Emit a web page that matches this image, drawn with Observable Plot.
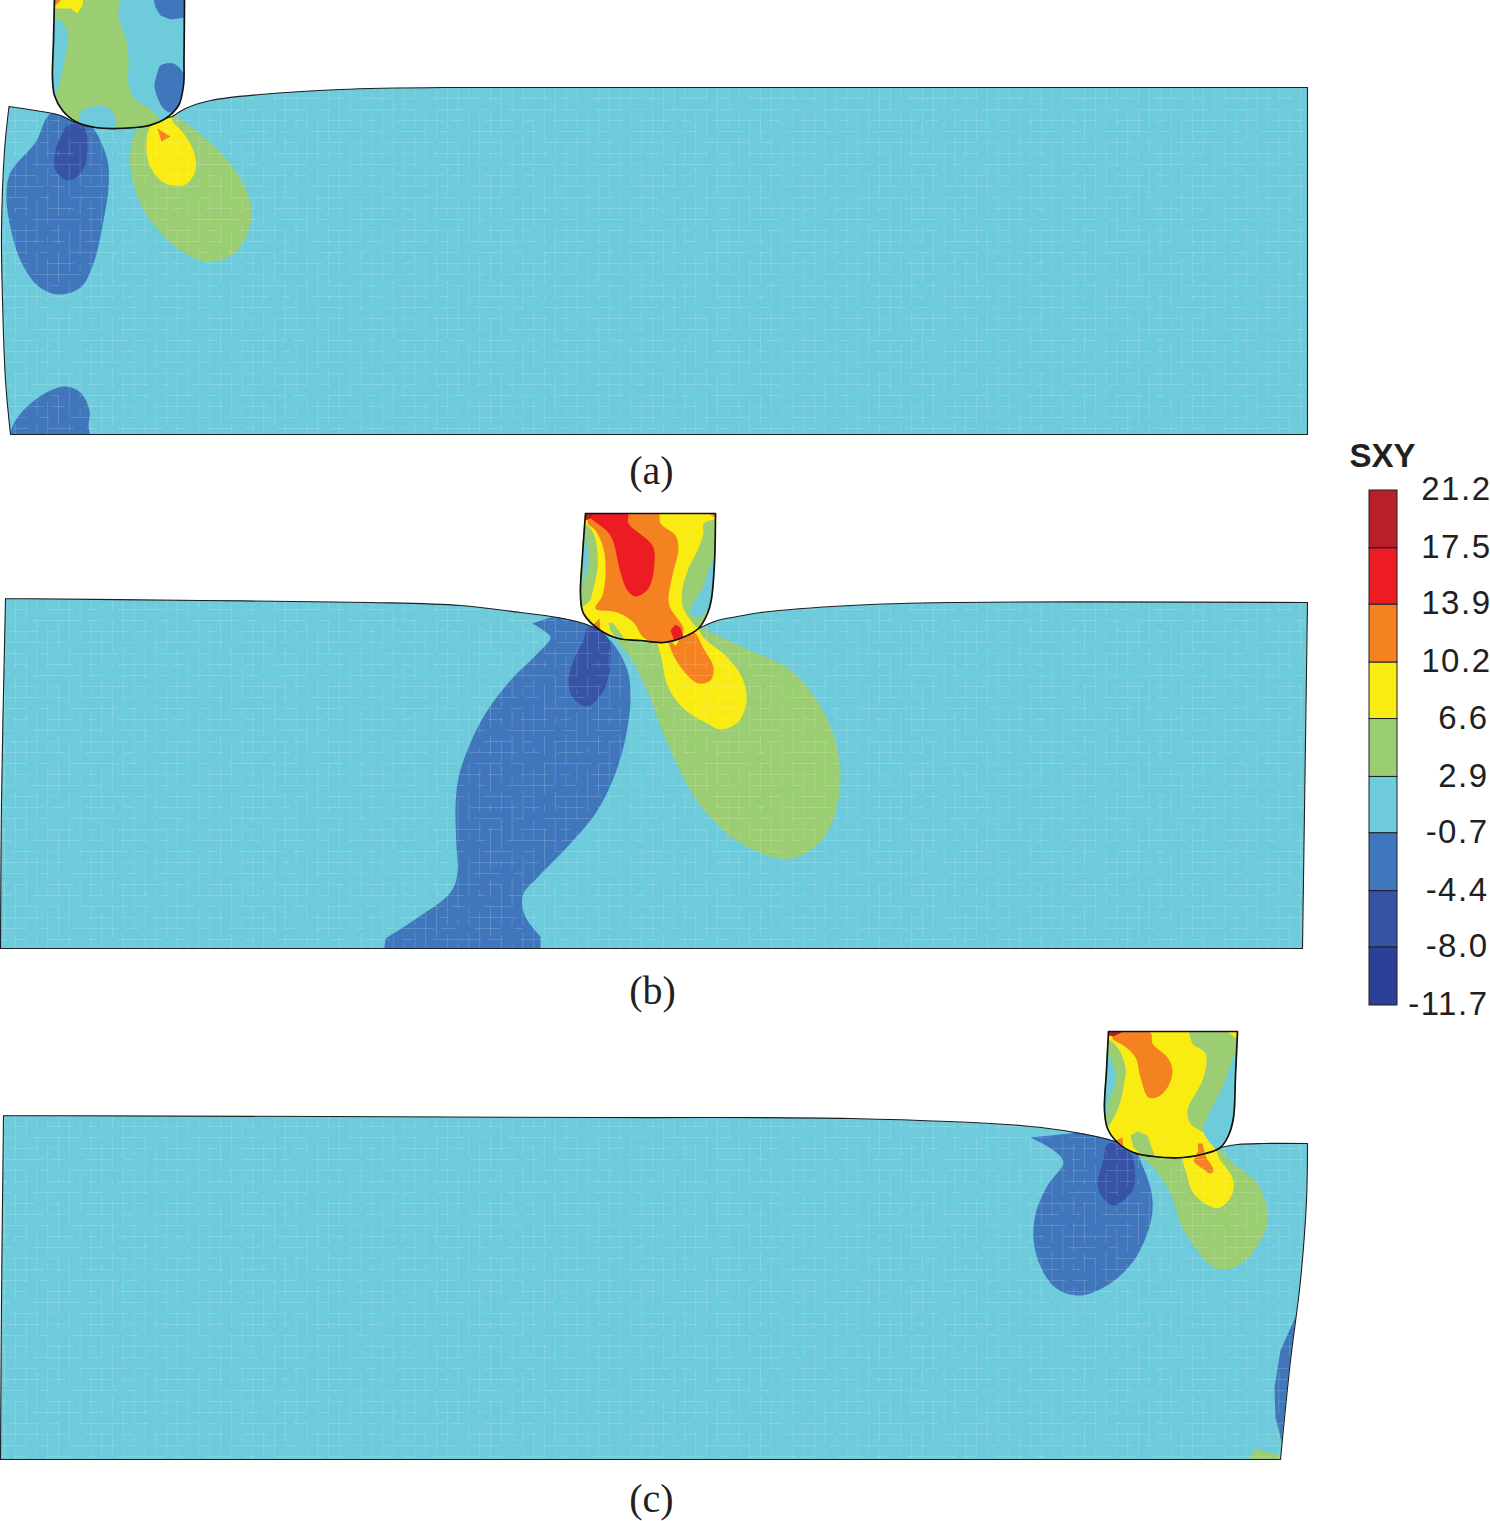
<!DOCTYPE html>
<html><head><meta charset="utf-8">
<style>html,body{margin:0;padding:0;background:#fff}#wrap{position:relative;width:1490px;height:1521px;overflow:hidden}#wrap svg{position:absolute;left:0;top:0}</style>
<script src="https://cdn.jsdelivr.net/npm/d3@7"></script>
<script src="https://cdn.jsdelivr.net/npm/@observablehq/plot@0.6"></script>
</head><body><div id="wrap"></div>
<script>
// Legend
const levels=[21.2,17.5,13.9,10.2,6.6,2.9,-0.7,-4.4,-8.0,-11.7];
const levelLabels=["21.2","17.5","13.9","10.2","6.6","2.9","-0.7","-4.4","-8.0","-11.7"];
const bandColors=["#B91F26","#ED1C24","#F58220","#F9EC13","#9BCD72","#6DCBDB","#3F76BC","#3753A6","#2E3F97"];
const [DR,RD,OR,YE,GR,CY,BL,MB]=bandColors;

// Panel (a) - repeated points are sharp corners of the outline
const plateA=[[8.5,106],[8.5,106],[35,110],[60,115],[75,122],[95,127],[135,127],[150,125],[165,118],[172,116],[172,116],[185,108],[210,100],[260,94],[340,89],[450,87],[800,87],[1307,87],[1307,87],[1307,434],[1307,434],[10,434],[10,434],[5,380],[2,300],[1,230],[4,150]];
const punchA=[[54,-2],[54,-2],[184,-2],[184,-2],[183.5,60],[183,85],[178,105],[165,118],[150,124.5],[135,127],[95,127],[75,121],[62,110],[54,95],[52,78],[53,40]];
const plateARegions=[
 [BL,[[50,113],[35,142],[10,172],[6,197],[10,227],[20,260],[37,285],[57,294],[80,287],[93,263],[103,220],[108,187],[107,160],[93,128],[75,112]]],
 [MB,[[67,125],[83,126],[87,147],[82,170],[68,180],[55,170],[55,150],[60,137]]],
 [BL,[[8,440],[10,432],[15,420],[30,403],[50,390],[65,386],[80,392],[89,410],[88,425],[88,440]]],
 [GR,[[158,115],[137,128],[130,150],[131,175],[141,205],[160,232],[183,252],[207,261],[232,254],[247,233],[251,208],[241,180],[220,152],[195,130],[173,115]]],
 [YE,[[157,118],[148,130],[146,150],[150,167],[163,182],[173,185],[185,184],[195,170],[193,150],[183,133],[173,122],[168,112]]],
 [OR,[[157,128],[170,136],[161,141]]]
];
const punchARegions=[
 [GR,[[54,-2],[117,-2],[118,17],[125,37],[128,57],[128,83],[133,97],[147,107],[158,117],[160,128],[147,130],[117,130],[115,117],[107,107],[87,107],[80,112],[78,122],[67,120],[52,100],[57,90],[62,70],[67,43],[67,32],[60,20],[52,17]]],
 [YE,[[52,-2],[83,-2],[82,5],[77,13],[70,8],[56,8],[52,9]]],
 [OR,[[52,-2],[62,-2],[56,4],[52,5]]],
 [BL,[[153,-2],[186,-2],[186,17],[170,19],[160,15],[155,7]]],
 [BL,[[160,65],[173,63],[184,75],[183,90],[177,107],[170,112],[163,108],[157,97],[154,85],[157,72]]]
];

// Panel (b)
const plateB=[[5,598],[5,598],[200,600],[370,602],[460,605],[520,612],[557,617],[583,623],[600,630],[618,638],[640,640],[663,642],[682,637],[698,628],[698,628],[717,620],[737,616],[760,612],[850,605],[950,602],[1307,602],[1307,602],[1302,948],[1302,948],[0,948],[0,948],[1,800]];
const punchB=[[585,513],[585,513],[715,513],[715,513],[714,562],[711,598],[707,613],[698,628],[682,637],[663,642],[640,640],[618,638],[600,630],[583,613],[580,595],[582,555]];
const plateBRegions=[
 [BL,[[532,623],[532,623],[557,616],[583,620],[610,640],[627,670],[630,697],[627,727],[617,767],[597,810],[570,843],[537,877],[523,893],[522,907],[527,920],[540,936],[540,936],[540,955],[540,955],[383,955],[383,955],[385,938],[385,938],[413,920],[450,892],[457,873],[456,847],[455,807],[458,777],[468,747],[485,713],[510,680],[537,653],[550,637],[543,630]]],
 [MB,[[587,627],[607,637],[610,663],[603,690],[587,706],[573,698],[568,683],[573,660],[583,640]]],
 [GR,[[610,625],[633,662],[650,698],[665,738],[700,805],[742,844],[790,858],[825,835],[840,775],[825,715],[790,670],[745,648],[700,627],[660,610]]],
 [YE,[[657,625],[662,662],[667,685],[683,708],[707,723],[720,729],[737,722],[746,702],[742,678],[727,657],[703,637],[693,622]]],
 [OR,[[667,635],[675,645],[680,637],[692,630],[703,648],[713,667],[710,680],[698,683],[687,675],[673,655]]]
];
const punchBRegions=[
 [YE,[[575,505],[725,505],[725,650],[575,650]]],
 [GR,[[586,525],[593,533],[597,552],[597,568],[593,588],[588,602],[578,606],[575,595],[578,582],[580,540]]],
 [CY,[[585,535],[588,548],[588,568],[582,585],[583,555]]],
 [GR,[[703,523],[722,521],[722,600],[707,613],[698,627],[688,617],[682,605],[682,588],[688,568],[698,548],[703,532]]],
 [CY,[[713,560],[722,560],[711,600],[707,610],[697,617],[689,612],[693,603],[702,588]]],
 [GR,[[608,622],[613,623],[622,635],[623,640],[617,640],[610,630]]],
 [OR,[[627,513],[658,513],[660,523],[675,535],[678,548],[672,575],[668,598],[670,608],[677,618],[683,628],[680,638],[657,642],[643,637],[633,622],[617,612],[595,608],[602,595],[605,572],[603,548],[595,530],[587,522],[595,512]]],
 [RD,[[585,513],[627,513],[628,523],[652,545],[654,562],[648,588],[635,596],[627,590],[620,572],[610,535],[593,520]]],
 [DR,[[585,513],[593,513],[590,518],[585,520]]],
 [OR,[[592,625],[599,618],[600,633],[594,627]]],
 [OR,[[708,513],[716,513],[716,518]]],
 [RD,[[670,630],[675,624],[680,627],[683,637],[677,647],[673,638]]]
];

// Panel (c)
const plateC=[[3,1115],[3,1115],[600,1117],[850,1118],[1020,1125],[1063,1130],[1100,1137],[1117,1142],[1133,1152],[1153,1156],[1183,1157],[1205,1153],[1220,1147],[1220,1147],[1237,1144],[1263,1143],[1307,1143],[1307,1143],[1306,1200],[1300,1280],[1290,1360],[1280,1459],[1280,1459],[0,1459],[0,1459],[1,1300]];
const punchC=[[1108,1031],[1108,1031],[1237,1031],[1237,1031],[1235,1075],[1233,1117],[1228,1135],[1220,1147],[1205,1153],[1183,1157],[1153,1156],[1133,1152],[1117,1142],[1107,1128],[1104,1110],[1106,1070]];
const plateCRegions=[
 [BL,[[1030,1137],[1030,1137],[1070,1133],[1100,1130],[1133,1145],[1141,1163],[1150,1187],[1152,1210],[1146,1235],[1132,1262],[1108,1284],[1080,1295],[1056,1288],[1040,1266],[1033,1238],[1036,1210],[1047,1185],[1063,1162],[1056,1152]]],
 [MB,[[1108,1143],[1130,1153],[1134,1167],[1132,1190],[1113,1205],[1102,1197],[1097,1183],[1102,1163]]],
 [GR,[[1135,1148],[1153,1167],[1170,1193],[1180,1223],[1197,1250],[1213,1267],[1227,1269],[1247,1258],[1265,1230],[1267,1210],[1257,1183],[1233,1163],[1217,1146],[1205,1140]]],
 [YE,[[1183,1150],[1187,1177],[1193,1193],[1210,1206],[1220,1207],[1232,1193],[1232,1177],[1220,1160],[1210,1142]]],
 [OR,[[1197,1143],[1202,1143],[1205,1155],[1213,1170],[1210,1173],[1202,1168],[1193,1160],[1198,1153]]],
 [BL,[[1300,1305],[1280,1350],[1274,1387],[1275,1417],[1282,1445],[1295,1450],[1310,1310]]],
 [GR,[[1248,1462],[1251,1453],[1257,1448],[1267,1452],[1282,1455],[1282,1462]]]
];
const punchCRegions=[
 [YE,[[1095,1025],[1245,1025],[1245,1165],[1095,1165]]],
 [GR,[[1108,1040],[1117,1047],[1125,1067],[1123,1087],[1118,1107],[1110,1123],[1104,1130],[1100,1110]]],
 [CY,[[1108,1053],[1115,1070],[1115,1083],[1108,1100],[1105,1120],[1100,1090]]],
 [GR,[[1190,1028],[1223,1028],[1240,1040],[1238,1117],[1228,1135],[1217,1150],[1207,1135],[1190,1123],[1187,1110],[1203,1077],[1205,1053],[1192,1043]]],
 [CY,[[1238,1048],[1238,1117],[1228,1133],[1220,1150],[1212,1145],[1203,1130],[1210,1110],[1222,1087]]],
 [YE,[[1223,1028],[1240,1028],[1238,1040]]],
 [OR,[[1117,1032],[1150,1032],[1152,1043],[1167,1057],[1172,1070],[1167,1087],[1158,1096],[1148,1097],[1140,1077],[1135,1057],[1123,1045],[1112,1038]]],
 [DR,[[1108,1031],[1123,1031],[1113,1036],[1108,1035]]],
 [GR,[[1130,1135],[1137,1131],[1147,1135],[1155,1158],[1142,1155],[1133,1147]]],
 [OR,[[1115,1140],[1122,1137],[1123,1148],[1118,1143]]],
 [OR,[[1197,1143],[1202,1143],[1205,1155],[1200,1158],[1195,1155],[1198,1150]]]
];

const panelLabels=[["(a)",651,471],["(b)",652,991],["(c)",651,1499]];
const panels=[
 {plate:plateA,punch:punchA,plateRegions:plateARegions,punchRegions:punchARegions,y:[87,434]},
 {plate:plateB,punch:punchB,plateRegions:plateBRegions,punchRegions:punchBRegions,y:[598,948]},
 {plate:plateC,punch:punchC,plateRegions:plateCRegions,punchRegions:punchCRegions,y:[1115,1459]}
];

let clipId=0;
const X=d=>d[0],Y=d=>d[1];
const closed=o=>[...o,o[0],o[0]];
const clipTo=(outline)=>{
  const id="clip"+(++clipId);
  return function(index,scales,values,dims,ctx,next){
    const g=next(index,scales,values,dims,ctx);
    const ns="http://www.w3.org/2000/svg";
    const cp=document.createElementNS(ns,"clipPath");
    cp.setAttribute("id",id);
    const p=document.createElementNS(ns,"path");
    p.setAttribute("d",d3.line().curve(d3.curveCatmullRom).x(d=>scales.x(d[0])).y(d=>scales.y(d[1]))(closed(outline))+"Z");
    cp.appendChild(p);g.appendChild(cp);
    const w=document.createElementNS(ns,"g");
    w.setAttribute("clip-path","url(#"+id+")");
    w.appendChild(g);
    return w;
  };
};
const body=(outline,fill)=>Plot.line(closed(outline),{x:X,y:Y,fill,stroke:"none",curve:"catmull-rom"});
const area=(pts,fill,outline,linear)=>Plot.line(pts,{x:X,y:Y,fill,stroke:"none",curve:linear?"linear":"catmull-rom-closed",render:clipTo(outline)});
const regionMarks=(list,outline)=>list.map(([c,pts])=>area(pts,c,outline,pts.length<=7));
const meshOrder=[0,3,1,4,2];
const meshMarks=(outline,yr)=>{
  const xs=d3.range(4,1308,10.8), ys=d3.range(yr[0],yr[1],11);
  return meshOrder.flatMap((g,k)=>[
    Plot.ruleX(xs.filter((_,i)=>i%5===k),{y1:yr[0]-5,y2:yr[1]+5,stroke:"#fff",strokeOpacity:.16,strokeWidth:1,strokeDasharray:"19 8 31 11 6 17 42 9",strokeDashoffset:g*29,render:clipTo(outline)}),
    Plot.ruleY(ys.filter((_,i)=>i%5===k),{x1:0,x2:1310,stroke:"#fff",strokeOpacity:.16,strokeWidth:1,strokeDasharray:"27 13 9 21 48 7 14 19",strokeDashoffset:g*37,render:clipTo(outline)})
  ]);
};
const edge=(o,stroke,strokeWidth)=>Plot.line(closed(o),{x:X,y:Y,stroke,strokeWidth,curve:"catmull-rom"});
const marks=[];
for(const p of panels){
  marks.push(body(p.plate,CY));
  marks.push(...regionMarks(p.plateRegions,p.plate));
  marks.push(...meshMarks(p.plate,p.y));
  marks.push(edge(p.plate,"#1c2024",1.1));
  marks.push(body(p.punch,CY));
  marks.push(...regionMarks(p.punchRegions,p.punch));
  marks.push(edge(p.punch,"#111",1.7));
}
marks.push(Plot.text(panelLabels,{x:d=>d[1],y:d=>d[2],text:d=>d[0],fontFamily:"Liberation Serif",fontSize:40,fill:"#231f20"}));

const main=Plot.plot({width:1490,height:1521,margin:0,
  x:{domain:[0,1490],range:[0,1490],axis:null},
  y:{domain:[0,1521],range:[0,1521],axis:null},
  marks});
const bands=bandColors.map((c,i)=>({c,hi:levels[i],lo:levels[i+1]}));
const legend=Plot.plot({width:160,height:600,margin:0,
  style:{background:"transparent"},
  x:{domain:[0,1],range:[39,67],axis:null},
  y:{domain:[21.2,-11.7],range:[60,575],axis:null},
  marks:[
    Plot.rect(bands,{x1:0,x2:1,y1:"hi",y2:"lo",fill:"c",stroke:"#1c2024",strokeWidth:1}),
    Plot.text(levels.slice(0,4),{y:d=>d,text:(d,i)=>levelLabels[i],frameAnchor:"right",dx:1,dy:-1,fontFamily:"Liberation Sans",fontSize:33,fill:"#231f20"}),
    Plot.text(levels.slice(4),{y:d=>d,text:(d,i)=>levelLabels[i+4],frameAnchor:"right",dx:-2,dy:-1,fontFamily:"Liberation Sans",fontSize:33,fill:"#231f20"}),
    Plot.text(["SXY"],{frameAnchor:"top-left",dx:19,dy:26,textAnchor:"start",lineAnchor:"middle",fontFamily:"Liberation Sans",fontWeight:"bold",fontSize:33,fill:"#231f20"})
  ]});
legend.querySelectorAll("text").forEach(t=>{if(t.textContent!=="SXY")t.style.letterSpacing="1.5px";});
legend.style.left="1330px";legend.style.top="430px";legend.style.position="absolute";
const wrap=document.getElementById("wrap");wrap.appendChild(main);wrap.appendChild(legend);
</script></body></html>
